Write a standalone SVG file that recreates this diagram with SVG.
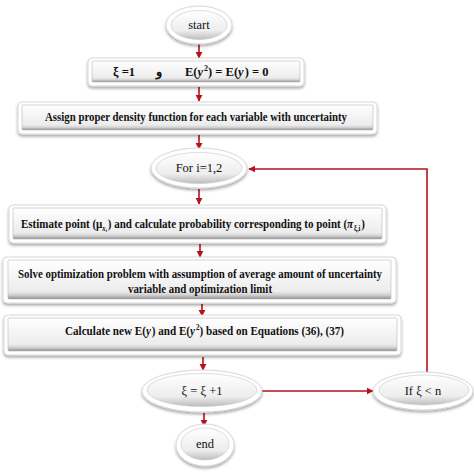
<svg xmlns="http://www.w3.org/2000/svg" width="474" height="474" viewBox="0 0 474 474">
<style>
.t{font-family:"Liberation Serif","Times New Roman",serif;font-size:12.5px;fill:#111;}
.b{font-weight:bold;}
.c{text-anchor:middle;}
.outer{fill:#fff;stroke:#d8d8d8;stroke-width:1;filter:url(#sh);}
.inner{fill:url(#g);stroke:#bbb;stroke-width:0.6;}
.einner{fill:url(#ge);stroke:#c8c8c8;stroke-width:0.6;}
.con{stroke:#b5121b;stroke-width:1.6;fill:none;}
</style>
<defs>
<filter id="sh" x="-20%" y="-30%" width="140%" height="170%">
<feGaussianBlur in="SourceAlpha" stdDeviation="1.6"/>
<feOffset dx="0" dy="1.5"/>
<feComponentTransfer><feFuncA type="linear" slope="0.35"/></feComponentTransfer>
<feMerge><feMergeNode/><feMergeNode in="SourceGraphic"/></feMerge>
</filter>
<linearGradient id="g" x1="0" y1="0" x2="0" y2="1">
<stop offset="0" stop-color="#ffffff"/>
<stop offset="0.8" stop-color="#ececec"/>
<stop offset="0.9" stop-color="#d0d0d0"/>
<stop offset="1" stop-color="#8f8f8f"/>
</linearGradient>
<linearGradient id="ge" x1="0" y1="0" x2="0" y2="1">
<stop offset="0" stop-color="#ffffff"/>
<stop offset="0.7" stop-color="#ededed"/>
<stop offset="1" stop-color="#bdbdbd"/>
</linearGradient>
<marker id="ah" viewBox="0 0 10 10" refX="9" refY="5" markerWidth="4.5" markerHeight="4.5" orient="auto">
<path d="M0,0 L10,5 L0,10 z" fill="#b5121b"/>
</marker>
</defs>

<g id="connectors">
<line class="con" x1="199" y1="44" x2="199" y2="58" marker-end="url(#ah)"/>
<line class="con" x1="199" y1="87" x2="199" y2="101" marker-end="url(#ah)"/>
<line class="con" x1="199" y1="135" x2="199" y2="149" marker-end="url(#ah)"/>
<line class="con" x1="199" y1="189" x2="199" y2="204" marker-end="url(#ah)"/>
<line class="con" x1="200" y1="244" x2="200" y2="257" marker-end="url(#ah)"/>
<line class="con" x1="202" y1="304" x2="202" y2="316" marker-end="url(#ah)"/>
<line class="con" x1="203" y1="357" x2="203" y2="370" marker-end="url(#ah)"/>
<line class="con" x1="262" y1="391" x2="373" y2="391" marker-end="url(#ah)"/>
<polyline class="con" points="427,373 427,169 249,169" marker-end="url(#ah)"/>
<line class="con" x1="204" y1="413" x2="204" y2="426" marker-end="url(#ah)"/>
</g>

<g id="start">
<ellipse class="outer" cx="199" cy="25" rx="33" ry="19"/>
<ellipse class="einner" cx="199" cy="25" rx="28" ry="14.5"/>
<text class="t c" x="199" y="29">start</text>
</g>

<g id="init">
<rect class="outer" x="88" y="58" width="216" height="28" rx="4"/>
<rect class="inner" x="92" y="61" width="208" height="21" rx="1"/>
<text class="t b" x="113" y="76">ξ  =1</text>
<text class="t b" x="156" y="76">و</text>
<text class="t b" x="185" y="76">E(<tspan font-style="italic">y</tspan><tspan font-size="8" dy="-5" dx="1">2</tspan><tspan dy="5">) = E(</tspan><tspan font-style="italic">y</tspan><tspan dx="1">) = 0</tspan></text>
</g>

<g id="assign">
<rect class="outer" x="18" y="102" width="359" height="32" rx="4"/>
<rect class="inner" x="22" y="105" width="351" height="25" rx="1"/>
<text class="t b" x="45" y="121" textLength="302" lengthAdjust="spacingAndGlyphs">Assign proper density function for each variable with uncertainty</text>
</g>

<g id="fori">
<ellipse class="outer" cx="199" cy="168" rx="48" ry="20"/>
<ellipse class="einner" cx="199" cy="168" rx="43" ry="15.5"/>
<text class="t c" x="199" y="172">For i=1,2</text>
</g>

<g id="estimate">
<rect class="outer" x="9" y="205" width="377" height="38" rx="4"/>
<rect class="inner" x="13" y="208" width="369" height="31" rx="1"/>
<text class="t b" transform="translate(21,228) scale(0.88,1)" x="0" y="0">Estimate point (μ<tspan font-size="7.5" dy="3" font-style="italic">x</tspan><tspan font-size="5" dy="1.5">i</tspan><tspan dy="-4.5" dx="1">) and calculate probability corresponding to point (</tspan><tspan font-style="italic">π</tspan><tspan font-size="7.5" dy="3" dx="1">ξ,i</tspan><tspan dy="-3" dx="1">)</tspan></text>
</g>

<g id="solve">
<rect class="outer" x="3" y="257" width="393" height="46" rx="4"/>
<rect class="inner" x="8" y="260" width="383" height="39" rx="1"/>
<text class="t b" x="18" y="278" textLength="364" lengthAdjust="spacingAndGlyphs">Solve optimization problem with assumption of average amount of uncertainty</text>
<text class="t b" x="128" y="293" textLength="144" lengthAdjust="spacingAndGlyphs">variable and optimization limit</text>
</g>

<g id="calc">
<rect class="outer" x="4" y="315" width="397" height="40" rx="4"/>
<rect class="inner" x="8" y="318" width="389" height="33" rx="1"/>
<text class="t b" transform="translate(65,335) scale(0.89,1)" x="0" y="0">Calculate new E(<tspan font-style="italic">y</tspan><tspan dx="1">) and E(</tspan><tspan font-style="italic">y</tspan><tspan font-size="8" dy="-5" dx="1">2</tspan><tspan dy="5">) based on Equations (36), (37)</tspan></text>
</g>

<g id="increment">
<ellipse class="outer" cx="202" cy="391" rx="60" ry="21"/>
<ellipse class="einner" cx="202" cy="390" rx="55" ry="16.5"/>
<text class="t c" x="202" y="395">ξ =  ξ  +1</text>
</g>

<g id="check">
<ellipse class="outer" cx="423" cy="391" rx="50" ry="19"/>
<ellipse class="einner" cx="424" cy="390" rx="45" ry="15"/>
<text class="t c" x="423" y="395">If ξ &lt; n</text>
</g>

<g id="end">
<ellipse class="outer" cx="205" cy="445" rx="29" ry="21"/>
<ellipse class="einner" cx="205" cy="444" rx="24" ry="16"/>
<text class="t c" x="205" y="448">end</text>
</g>
</svg>
